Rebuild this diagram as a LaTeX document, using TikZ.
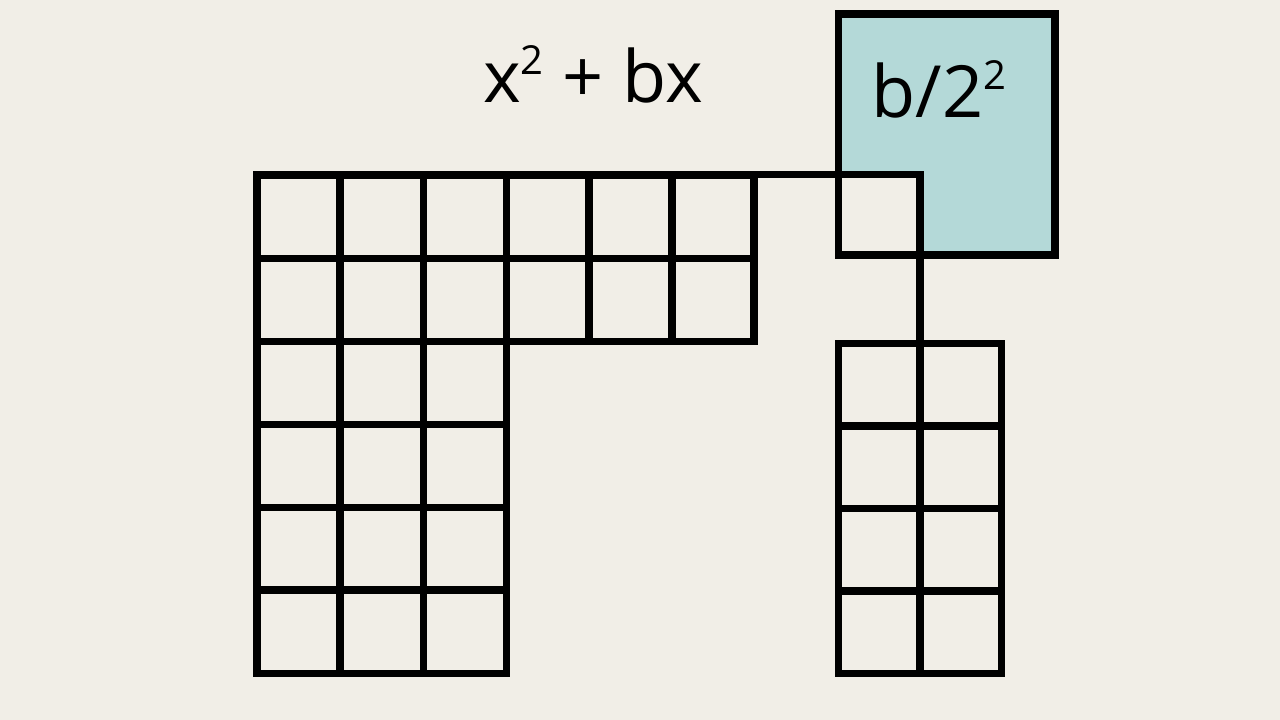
\documentclass[tikz,border=0pt]{standalone}
\usepackage{fontspec}
\setmainfont{Open Sans}
\definecolor{bg}{HTML}{F1EEE7}
\definecolor{tealsq}{HTML}{B4D9D8}
\newcommand{\supdigit}[1]{\raisebox{28pt}{\fontsize{40}{40}\selectfont #1}}
\begin{document}
\begin{tikzpicture}[x=1pt,y=-1pt,
  gridline/.style={line width=7.5pt, black, line cap=rect, line join=miter},
  lbl/.style={anchor=base, inner sep=0pt, font=\fontsize{72}{80}\selectfont}]
\fill[bg] (0,0) rectangle (1280,720);
\useasboundingbox (0,0) rectangle (1280,720);
% teal square and small square inside it
\draw[gridline, fill=tealsq] (838.5,14) rectangle (1055,255);
\draw[gridline, fill=bg] (838.5,174.5) rectangle (920,255);
% left block 3x6
\foreach \x in {257,340,423.5,506.5} \draw[gridline] (\x,175) -- (\x,673.5);
\foreach \y in {175,258.5,341.5,424.5,507.5,590,673.5} \draw[gridline] (257,\y) -- (506.5,\y);
% top extension 3x2
\foreach \x in {589,672,754} \draw[gridline] (\x,175) -- (\x,341.5);
\foreach \y in {175,258.5,341.5} \draw[gridline] (506.5,\y) -- (754,\y);
% right block 2x4
\foreach \x in {838.5,920,1001.5} \draw[gridline] (\x,343.5) -- (\x,673.5);
\foreach \y in {343.5,426,508.5,591,673.5} \draw[gridline] (838.5,\y) -- (1001.5,\y);
% connectors
\coordinate (ca) at (754,174.5);
\coordinate (cb) at (838.5,174.5);
\coordinate (cc) at (920,255);
\coordinate (cd) at (920,343.5);
\draw[gridline] (ca) -- (cb);
\draw[gridline] (cc) -- (cd);
% labels
\node[lbl] (t1) at (593,102) {x\supdigit{2} + bx};
\node[lbl] (t2) at (939,117) {b/2\supdigit{2}};
\end{tikzpicture}
\end{document}
